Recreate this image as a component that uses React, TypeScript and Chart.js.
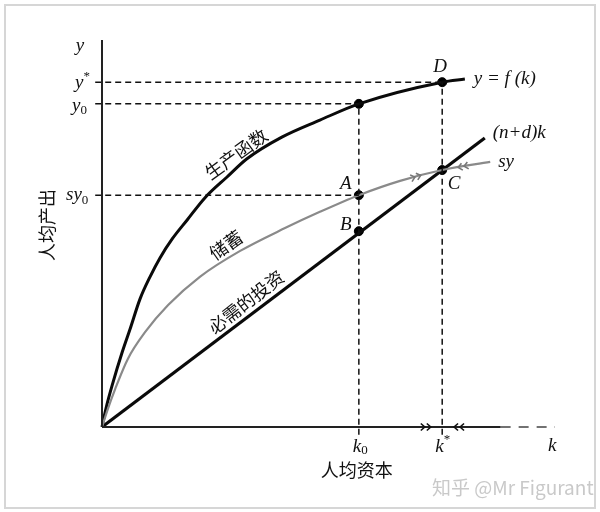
import React, { useEffect, useRef } from "react";
import { Chart, registerables } from "chart.js";
Chart.register(...registerables);

// Production function y = f(k)
const productionK = [0, 0.09, 0.24, 0.44, 0.62, 0.84, 1.06, 1.28, 1.55, 1.88, 2.27, 2.76, 3.2, 3.97, 4.81, 5.67, 7.51, 8.01];
const productionY = [0, 0.49, 1.14, 1.91, 2.53, 3.31, 3.88, 4.37, 4.86, 5.35, 5.92, 6.46, 6.93, 7.49, 7.93, 8.35, 8.91, 8.99];
// Savings sy
const savingK = [0, 0.13, 0.29, 0.57, 0.95, 1.46, 2.16, 3.05, 4.04, 4.81, 5.67, 6.58, 7.51, 8.57];
const savingY = [0, 0.47, 0.98, 1.76, 2.45, 3.15, 3.88, 4.55, 5.14, 5.56, 5.99, 6.36, 6.64, 6.85];
// Required investment (n+d)k
const investK = [0, 8.45];
const investY = [0, 7.47];
// Key values
const k0 = 5.67;
const kStar = 7.51;
const y0 = 8.35;
const yStar = 8.91;
const sy0 = 5.99;
const bY = 5.06;
const cY = 6.64;
const xMax = 10;
const yMax = 10;
const axisSolidEnd = 8.8;

const pts = (xs: number[], ys: number[]) => xs.map((x, i) => ({ x, y: ys[i] }));
const interp = (xs: number[], ys: number[], x: number) => {
  for (let i = 1; i < xs.length; i++) {
    if (x <= xs[i]) {
      const t = (x - xs[i - 1]) / (xs[i] - xs[i - 1]);
      return ys[i - 1] + t * (ys[i] - ys[i - 1]);
    }
  }
  return ys[ys.length - 1];
};

const SERIF_I = "italic 19px 'Liberation Serif', 'DejaVu Serif', serif";
const SERIF_SM = "13px 'Liberation Serif', 'DejaVu Serif', serif";
const CJK = "18px 'Noto Sans CJK SC', sans-serif";

const frame = {
  id: "frame",
  beforeDraw(chart: any) {
    const c = chart.ctx;
    c.save();
    c.fillStyle = "#fff";
    c.fillRect(0, 0, chart.width, chart.height);
    c.strokeStyle = "#d6d6d6";
    c.lineWidth = 2;
    c.strokeRect(5, 5, 590, 503);
    c.restore();
  },
};

function chevrons(c: any, x: number, y: number, angle: number, dir: number, color: string) {
  c.save();
  c.translate(x, y);
  c.rotate(angle);
  c.strokeStyle = color;
  c.lineWidth = 1.6;
  for (const off of [-3, 3]) {
    c.beginPath();
    c.moveTo(off - 3 * dir, -3.5);
    c.lineTo(off + 1 * dir, 0);
    c.lineTo(off - 3 * dir, 3.5);
    c.stroke();
  }
  c.restore();
}

const labels = {
  id: "labels",
  afterDatasetsDraw(chart: any) {
    const c = chart.ctx;
    const X = (v: number) => chart.scales.x.getPixelForValue(v);
    const Y = (v: number) => chart.scales.y.getPixelForValue(v);
    c.save();
    c.fillStyle = "#111";
    c.textBaseline = "middle";

    const txt = (s: string, x: number, y: number, font: string, align = "left") => {
      c.font = font;
      c.textAlign = align;
      c.fillText(s, x, y);
      return c.measureText(s).width;
    };

    // y-axis labels
    txt("y", X(0) - 22, Y(yMax) + 6, SERIF_I, "center");
    let w = txt("y", X(0) - 27, Y(yStar) + 1, SERIF_I, "left");
    txt("*", X(0) - 27 + w, Y(yStar) - 6, SERIF_SM, "left");
    w = txt("y", X(0) - 30, Y(y0) + 2, SERIF_I, "left");
    txt("0", X(0) - 30 + w, Y(y0) + 7, SERIF_SM, "left");
    w = txt("sy", X(0) - 36, Y(sy0), SERIF_I, "left");
    txt("0", X(0) - 36 + w, Y(sy0) + 5, SERIF_SM, "left");

    // x-axis labels
    w = txt("k", X(k0) - 6, Y(0) + 20, SERIF_I, "left");
    txt("0", X(k0) - 6 + w, Y(0) + 24, SERIF_SM, "left");
    w = txt("k", X(kStar) - 7, Y(0) + 20, SERIF_I, "left");
    txt("*", X(kStar) - 7 + w, Y(0) + 13, SERIF_SM, "left");
    txt("k", X(xMax) - 7, Y(0) + 19, SERIF_I, "left");

    // point labels
    txt("D", X(kStar) - 2, Y(yStar) - 15, SERIF_I, "center");
    txt("A", X(k0) - 13, Y(sy0) - 11, SERIF_I, "center");
    txt("B", X(k0) - 13, Y(bY) - 6, SERIF_I, "center");
    txt("C", X(kStar) + 12, Y(cY) + 14, SERIF_I, "center");

    // curve labels
    txt("y = f (k)", X(productionK[productionK.length - 1]) + 9, Y(productionY[productionY.length - 1]), SERIF_I, "left");
    txt("(n+d)k", X(investK[1]) + 8, Y(investY[1]) - 5, SERIF_I, "left");
    txt("sy", X(savingK[savingK.length - 1]) + 8, Y(savingY[savingY.length - 1]), SERIF_I, "left");

    // axis titles
    c.save();
    c.translate(47, 225);
    c.rotate(-Math.PI / 2);
    txt("人均产出", 0, 0, CJK, "center");
    c.restore();
    txt("人均资本", X(k0) - 2, Y(0) + 43, CJK, "center");

    // rotated curve names
    const rot = (s: string, x: number, y: number, a: number) => {
      c.save();
      c.translate(x, y);
      c.rotate(a);
      txt(s, 0, 0, CJK, "center");
      c.restore();
    };
    rot("生产函数", 236, 154, -0.62);
    rot("储蓄", 226, 245, -0.62);
    rot("必需的投资", 246, 302, -0.66);

    // arrows on sy curve
    const ka = 6.95;
    chevrons(c, X(ka), Y(interp(savingK, savingY, ka)), -0.28, 1, "#777");
    const kb = 7.95;
    chevrons(c, X(kb), Y(interp(savingK, savingY, kb)), -0.2, -1, "#777");
    // arrows on k axis
    chevrons(c, X(7.17), Y(0), 0, 1, "#111");
    chevrons(c, X(7.86), Y(0), 0, -1, "#111");

    // watermark
    c.fillStyle = "#c9c9c9";
    c.font = "19px 'Noto Sans CJK SC', 'Noto Sans', sans-serif";
    c.textAlign = "left";
    c.fillText("知乎 @Mr Figurant", 432, 488);
    c.restore();
  },
};

export default function App() {
  const ref = useRef<HTMLCanvasElement>(null);
  useEffect(() => {
    if (!ref.current) return;
    const dash = [6, 4];
    const guide = (data: any[]) => ({
      data,
      borderColor: "#111",
      borderWidth: 1.5,
      borderDash: dash,
      pointRadius: 0,
      clip: false,
    });
    const chart = new Chart(ref.current, {
      type: "line",
      data: {
        datasets: [
          { data: [{ x: 0, y: 0 }, { x: 0, y: yMax }], borderColor: "#222", borderWidth: 2, pointRadius: 0, clip: false } as any,
          { data: [{ x: 0, y: 0 }, { x: axisSolidEnd, y: 0 }], borderColor: "#222", borderWidth: 2, pointRadius: 0, clip: false },
          { data: [{ x: axisSolidEnd, y: 0 }, { x: xMax, y: 0 }], borderColor: "#444", borderWidth: 1.5, borderDash: [10, 8], pointRadius: 0, clip: false },
          guide([{ x: -0.15, y: yStar }, { x: kStar, y: yStar }]),
          guide([{ x: -0.15, y: y0 }, { x: k0, y: y0 }]),
          guide([{ x: -0.15, y: sy0 }, { x: k0, y: sy0 }]),
          guide([{ x: k0, y: -0.2 }, { x: k0, y: y0 }]),
          guide([{ x: kStar, y: -0.2 }, { x: kStar, y: yStar }]),
          {
            data: pts(savingK, savingY),
            borderColor: "#8a8a8a",
            borderWidth: 2.2,
            pointRadius: 0,
            cubicInterpolationMode: "monotone",
            clip: false,
          },
          {
            data: pts(productionK, productionY),
            borderColor: "#0a0a0a",
            borderWidth: 3,
            pointRadius: 0,
            cubicInterpolationMode: "monotone",
            clip: false,
          },
          {
            data: pts(investK, investY),
            borderColor: "#0a0a0a",
            borderWidth: 3.2,
            pointRadius: 0,
            clip: false,
          },
          {
            data: [
              { x: k0, y: y0 },
              { x: kStar, y: yStar },
              { x: k0, y: sy0 },
              { x: k0, y: bY },
              { x: kStar, y: cY },
            ],
            showLine: false,
            pointRadius: 4.5,
            pointBackgroundColor: "#000",
            pointBorderColor: "#000",
            clip: false,
          },
        ] as any,
      },
      options: {
        animation: false,
        responsive: false,
        events: [],
        layout: { padding: { left: 102, right: 45, top: 40, bottom: 85 } },
        plugins: { legend: { display: false }, tooltip: { enabled: false } },
        scales: {
          x: { type: "linear", min: 0, max: xMax, display: false },
          y: { type: "linear", min: 0, max: yMax, display: false },
        },
      },
      plugins: [frame, labels],
    });
    return () => chart.destroy();
  }, []);
  return (
    <div style={{ position: "fixed", left: 0, top: 0, width: 600, height: 512 }}>
      <canvas ref={ref} width={600} height={512} style={{ width: 600, height: 512, display: "block" }} />
    </div>
  );
}
